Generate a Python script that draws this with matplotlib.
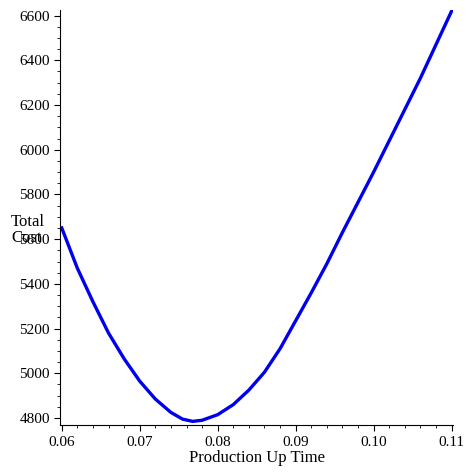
import matplotlib.pyplot as plt
from matplotlib.ticker import MultipleLocator

# values
up_time = [0.060, 0.062, 0.064, 0.066, 0.068, 0.070, 0.072, 0.074, 0.0755, 0.0768,
           0.078, 0.080, 0.082, 0.084, 0.086, 0.088, 0.090, 0.092, 0.094, 0.096,
           0.098, 0.100, 0.102, 0.104, 0.106, 0.108, 0.110]
total_cost = [5650, 5470, 5320, 5180, 5065, 4965, 4885, 4825, 4795, 4785,
              4790, 4815, 4860, 4925, 5005, 5110, 5235, 5360, 5490, 5630,
              5765, 5900, 6040, 6180, 6320, 6470, 6620]

plt.rcParams['font.family'] = ['Liberation Serif', 'DejaVu Serif']

fig = plt.figure(figsize=(4.74, 4.74), dpi=100)
ax = fig.add_axes([0.127, 0.103, 0.829, 0.876])
ax.plot(up_time, total_cost, color='#0000ee', lw=2.4, solid_joinstyle='round')

ax.set_xlim(0.0598, 0.1102)
ax.set_ylim(4768, 6625)
ax.xaxis.set_major_locator(MultipleLocator(0.01))
ax.xaxis.set_minor_locator(MultipleLocator(0.002))
ax.yaxis.set_major_locator(MultipleLocator(200))
ax.yaxis.set_minor_locator(MultipleLocator(50))
ax.xaxis.set_major_formatter(plt.FuncFormatter(lambda v, p: f"{v:.2f}"))
ax.spines['top'].set_visible(False)
ax.spines['right'].set_visible(False)
ax.tick_params(labelsize=11, length=4)
ax.tick_params(which='minor', length=2)

ax.set_xlabel('Production Up Time', fontsize=12, labelpad=1)
ax.set_ylabel('Total\nCost', fontsize=12, rotation=0, ha='left', va='center',
              linespacing=1.0)
ax.yaxis.set_label_coords(-0.125, 0.47)

fig.savefig('out.png', dpi=100)
